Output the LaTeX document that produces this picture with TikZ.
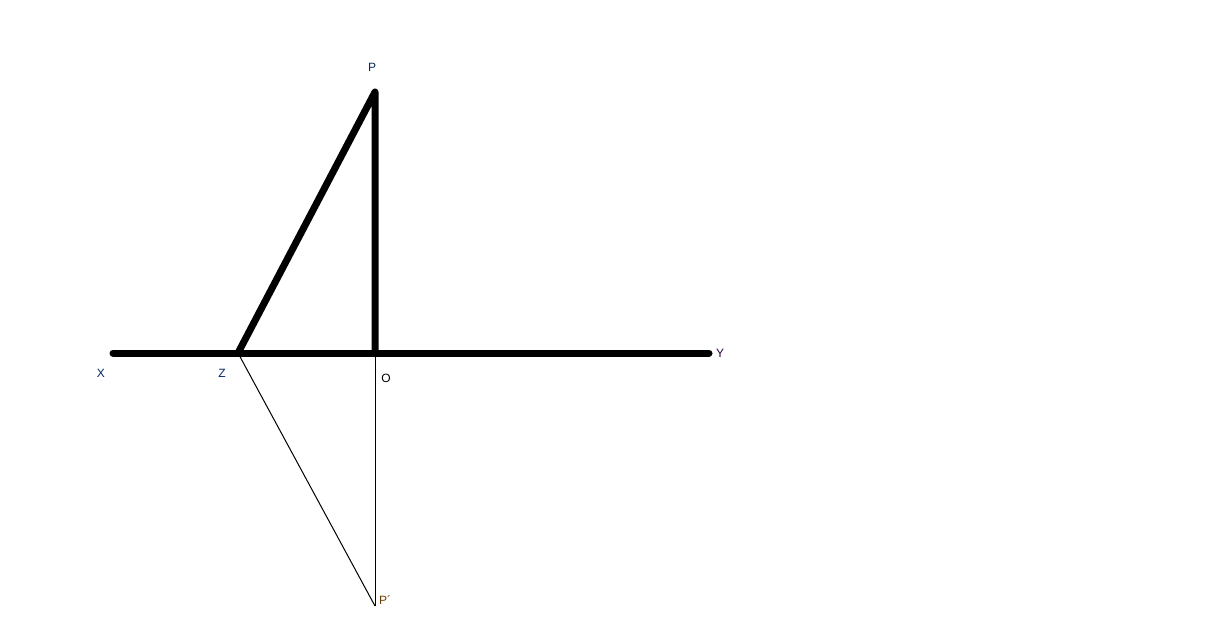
\documentclass[tikz,border=0pt]{standalone}
\usepackage{fontspec}
\setmainfont{Liberation Sans}
\begin{document}
\begin{tikzpicture}[x=1pt,y=-1pt,
  thickline/.style={line width=7pt,line cap=round,line join=round},
  thinline/.style={line width=1pt},
  lbl/.style={inner sep=0pt,font=\fontsize{12}{14}\selectfont}]
\useasboundingbox (0,0) rectangle (1210,630);
\fill[white] (0,0) rectangle (1210,630);
\coordinate (Xe) at (113,353);
\coordinate (Ye) at (709,353);
\coordinate (Z) at (238,353);
\coordinate (O) at (375,353);
\coordinate (P) at (375,92);
\coordinate (Pp) at (375,606);
\draw[thickline] (Xe) -- (Ye);
\draw[thickline] (Z) -- (P) -- (O);
\draw[thinline] (Z) -- (Pp);
\draw[thinline] (O) -- (Pp);
\node[lbl,text={rgb,255:red,0;green,40;blue,100}] (lP) at (372,67) {P};
\node[lbl,text={rgb,255:red,0;green,40;blue,100}] (lX) at (101,373) {X};
\node[lbl,text={rgb,255:red,0;green,40;blue,100}] (lZ) at (222,373) {Z};
\node[lbl] (lO) at (386,378) {O};
\node[lbl,text={rgb,255:red,40;green,0;blue,60}] (lY) at (720,353) {Y};
\node[lbl,text={rgb,255:red,110;green,60;blue,0}] (lPp) at (385,600) {P´};
\end{tikzpicture}
\end{document}
